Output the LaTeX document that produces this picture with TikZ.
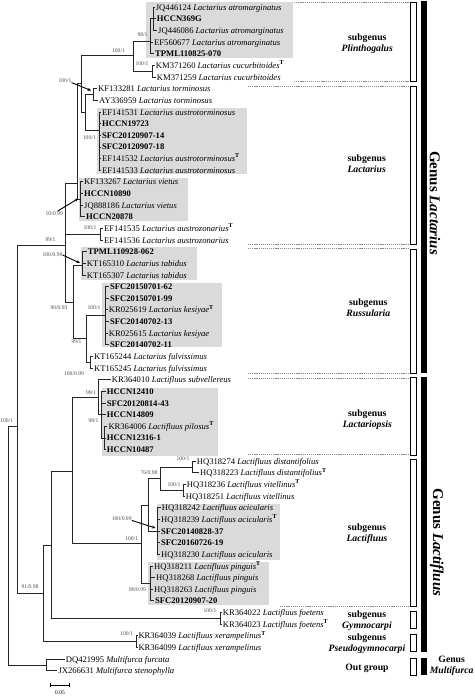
\documentclass[tikz,border=0pt]{standalone}
\usepackage{fontspec}
\setmainfont{Liberation Serif}
\usetikzlibrary{arrows.meta,calc}
\definecolor{boxgray}{RGB}{218,218,218}
\newcommand\typT{\textsuperscript{\textbf{T}}}
\newcommand\leafx[4]{%
 \coordinate (t#1) at (#2-0.9,{7.3+(#1-1)*11.64});
 \node[lab,anchor=base west] (n#1) at (#2,{7.3+(#1-1)*11.64+3}) {#4};
 \draw[br] (#3) |- (t#1);}
\begin{document}
\begin{tikzpicture}[x=1pt,y=-1pt,
  br/.style={line width=0.9pt,black!85},
  lab/.style={font=\fontsize{8.6}{10}\selectfont,inner sep=0pt},
  bs/.style={font=\fontsize{5.6}{6}\selectfont,text=black!70,inner sep=0pt},
  sep/.style={draw=black!45,line width=0.45pt,dash pattern=on 1.2pt off 0.9pt},
  brk/.style={draw=black,line width=0.6pt,fill=white},
  sg/.style={font=\fontsize{9.7}{11}\selectfont\bfseries,align=center,inner sep=0pt},
  gl/.style={font=\fontsize{15}{16}\selectfont\bfseries,inner sep=0pt,rotate=-90},
  arr/.style={-{Stealth[length=3.5pt,width=3pt]},line width=0.9pt,black}]
\useasboundingbox (0,0) rectangle (474,696);
% shaded clades
\fill[boxgray] (145.7,1.7) rectangle (293.3,58.3);
\fill[boxgray] (96.7,108.3) rectangle (246.7,174);
\fill[boxgray] (79,178.3) rectangle (188.3,220.7);
\fill[boxgray] (81,247.3) rectangle (196.7,280);
\fill[boxgray] (101.7,283.3) rectangle (221.7,347.3);
\fill[boxgray] (101.7,388.3) rectangle (218.3,455.7);
\fill[boxgray] (156.7,504) rectangle (280,560);
\fill[boxgray] (148.3,562.3) rectangle (269.3,605);
% separators
\foreach \yy/\xa in {2.7/294,81.7/294,86/248,244.3/248,248/248,373.3/248,378/248,454/248,606.7/280}
  \draw[sep] (\xa,\yy) -- (409,\yy);
% brackets
\foreach \a/\b in {2.7/81.7,86/244.3,249.3/373.3,377.3/455,459.3/606.7,611.7/628.3,634/651.7,658.3/675}
  \draw[brk] (410.7,\a) rectangle (416,\b);
\foreach \a/\b in {0.7/372.7,376.7/651.7,658.3/675}
  \fill[black] (420.7,\a) rectangle (426.7,\b);
% internal nodes
\coordinate (S1) at (153,18.94);
\coordinate (AM) at (150,41.7);
\coordinate (KM) at (152,71.3);
\coordinate (NP) at (133,55.5);
\coordinate (TP) at (93,94.6);
\coordinate (AT) at (99.3,130);
\coordinate (NTA) at (85.7,112);
\coordinate (NA) at (81,83);
\coordinate (NV) at (80.5,199.4);
\coordinate (NU) at (77.3,183);
\coordinate (AZ) at (100,234.3);
\coordinate (TB) at (82.7,265);
\coordinate (KS) at (105.5,315.8);
\coordinate (FV) at (90,362.3);
\coordinate (KF) at (86,338);
\coordinate (RUS) at (73,302);
\coordinate (LG) at (65.7,245);
\coordinate (DP) at (192,467.1);
\coordinate (VP) at (183,490.4);
\coordinate (DV) at (160,478.7);
\coordinate (AC) at (157,531.1);
\coordinate (DA) at (148.3,505);
\coordinate (PG) at (150,583.5);
\coordinate (LS) at (141.7,543.3);
\coordinate (SS) at (104,438);
\coordinate (SC) at (101.7,414.7);
\coordinate (LP) at (98.3,397);
\coordinate (G2) at (72.7,471.7);
\coordinate (FT) at (220,618.4);
\coordinate (G1) at (51.7,545);
\coordinate (XP) at (136.7,641.7);
\coordinate (LF) at (43.3,593.5);
\coordinate (IG) at (17.3,426);
\coordinate (MF) at (46.7,665);
\coordinate (RT) at (8.3,545);
% internal branches
\draw[br] (AM) |- (S1);
\draw[br] (NP) |- (AM);
\draw[br] (NP) |- (KM);
\draw[br] (NA) |- (NP);
\draw[br] (NTA) |- (TP);
\draw[br] (NTA) |- (AT);
\draw[br] (NA) |- (NTA);
\draw[br] (NU) |- (NA);
\draw[br] (NU) |- (NV);
\draw[br] (LG) |- (NU);
\draw[br] (LG) |- (AZ);
\draw[br] (LG) |- (RUS);
\draw[br] (RUS) |- (TB);
\draw[br] (RUS) |- (KF);
\draw[br] (KF) |- (KS);
\draw[br] (KF) |- (FV);
\draw[br] (IG) |- (LG);
\draw[br] (DV) |- (DP);
\draw[br] (DV) |- (VP);
\draw[br] (DA) |- (DV);
\draw[br] (DA) |- (AC);
\draw[br] (LS) |- (DA);
\draw[br] (LS) |- (PG);
\draw[br] (G2) |- (LS);
\draw[br] (G2) |- (LP);
\draw[br] (LP) |- (SC);
\draw[br] (SC) |- (SS);
\draw[br] (G1) |- (G2);
\draw[br] (G1) |- (FT);
\draw[br] (LF) |- (G1);
\draw[br] (LF) |- (XP);
\draw[br] (IG) |- (LF);
\draw[br] (RT) |- (IG);
\draw[br] (RT) |- (MF);
% leaves
\leafx{1}{155.7}{S1}{JQ446124 \textit{Lactarius atromarginatus}}
\leafx{2}{156.7}{S1}{\textbf{HCCN369G}}
\leafx{3}{158}{S1}{JQ446086 \textit{Lactarius atromarginatus}}
\leafx{4}{154}{AM}{EF560677 \textit{Lactarius atromarginatus}}
\leafx{5}{155}{AM}{\textbf{TPML110825-070}}
\leafx{6}{155.7}{KM}{KM371260 \textit{Lactarius cucurbitoides}\typT}
\leafx{7}{156.7}{KM}{KM371259 \textit{Lactarius cucurbitoides}}
\leafx{8}{98}{TP}{KF133281 \textit{Lactarius torminosus}}
\leafx{9}{99}{TP}{AY336959 \textit{Lactarius torminosus}}
\leafx{10}{102}{AT}{EF141531 \textit{Lactarius austrotorminosus}}
\leafx{11}{102}{AT}{\textbf{HCCN19723}}
\leafx{12}{102}{AT}{\textbf{SFC20120907-14}}
\leafx{13}{102}{AT}{\textbf{SFC20120907-18}}
\leafx{14}{102}{AT}{EF141532 \textit{Lactarius austrotorminosus}\typT}
\leafx{15}{102}{AT}{EF141533 \textit{Lactarius austrotorminosus}}
\leafx{16}{84}{NV}{KF133267 \textit{Lactarius vietus}}
\leafx{17}{84}{NV}{\textbf{HCCN10890}}
\leafx{18}{84}{NV}{JQ888186 \textit{Lactarius vietus}}
\leafx{19}{86}{NV}{\textbf{HCCN20878}}
\leafx{20}{104}{AZ}{EF141535 \textit{Lactarius austrozonarius}\typT}
\leafx{21}{104}{AZ}{EF141536 \textit{Lactarius austrozonarius}}
\leafx{22}{87.7}{TB}{\textbf{TPML110928-062}}
\leafx{23}{86.7}{TB}{KT165310 \textit{Lactarius tabidus}}
\leafx{24}{86.7}{TB}{KT165307 \textit{Lactarius tabidus}}
\leafx{25}{110}{KS}{\textbf{SFC20150701-62}}
\leafx{26}{110}{KS}{\textbf{SFC20150701-99}}
\leafx{27}{108.7}{KS}{KR025619 \textit{Lactarius kesiyae}\typT}
\leafx{28}{110}{KS}{\textbf{SFC20140702-13}}
\leafx{29}{108.7}{KS}{KR025615 \textit{Lactarius kesiyae}}
\leafx{30}{110}{KS}{\textbf{SFC20140702-11}}
\leafx{31}{94}{FV}{KT165244 \textit{Lactarius fulvissimus}}
\leafx{32}{94}{FV}{KT165245 \textit{Lactarius fulvissimus}}
\leafx{33}{111.7}{LP}{KR364010 \textit{Lactifluus subvellereus}}
\leafx{34}{106.7}{SC}{\textbf{HCCN12410}}
\leafx{35}{106.7}{SC}{\textbf{SFC20120814-43}}
\leafx{36}{106.7}{SC}{\textbf{HCCN14809}}
\leafx{37}{108.3}{SS}{KR364006 \textit{Lactifluus pilosus}\typT}
\leafx{38}{106.7}{SS}{\textbf{HCCN12316-1}}
\leafx{39}{106.7}{SS}{\textbf{HCCN10487}}
\leafx{40}{196.7}{DP}{HQ318274 \textit{Lactifluus distantifolius}}
\leafx{41}{200}{DP}{HQ318223 \textit{Lactifluus distantifolius}\typT}
\leafx{42}{186.7}{VP}{HQ318236 \textit{Lactifluus vitellinus}\typT}
\leafx{43}{185.7}{VP}{HQ318251 \textit{Lactifluus vitellinus}}
\leafx{44}{161.7}{AC}{HQ318242 \textit{Lactifluus acicularis}}
\leafx{45}{161}{AC}{HQ318239 \textit{Lactifluus acicularis}\typT}
\leafx{46}{161}{AC}{\textbf{SFC20140828-37}}
\leafx{47}{161}{AC}{\textbf{SFC20160726-19}}
\leafx{48}{161}{AC}{HQ318230 \textit{Lactifluus acicularis}}
\leafx{49}{154}{PG}{HQ318211 \textit{Lactifluus pinguis}\typT}
\leafx{50}{156}{PG}{HQ318268 \textit{Lactifluus pinguis}}
\leafx{51}{154}{PG}{HQ318263 \textit{Lactifluus pinguis}}
\leafx{52}{155}{PG}{\textbf{SFC20120907-20}}
\leafx{53}{222.7}{FT}{KR364022 \textit{Lactifluus foetens}}
\leafx{54}{222.7}{FT}{KR364023 \textit{Lactifluus foetens}\typT}
\leafx{55}{138.3}{XP}{KR364039 \textit{Lactifluus xerampelinus}\typT}
\leafx{56}{138.3}{XP}{KR364099 \textit{Lactifluus xerampelinus}}
\leafx{57}{65.7}{MF}{DQ421995 \textit{Multifurca furcata}}
\leafx{58}{58.3}{MF}{JX266631 \textit{Multifurca stenophylla}}
% support values
\node[bs] (b1) at (142.5,34.5) {98/1};
\node[bs] (b2) at (118.5,50.7) {100/1};
\node[bs] (b3) at (142,63.3) {100/1};
\node[bs] (b4) at (65,80.5) {100/1};
\node[bs] (b5) at (89.3,138) {100/1};
\node[bs] (b6) at (54.5,213.3) {93/0.99};
\node[bs] (b7) at (90,227.3) {100/1};
\node[bs] (b8) at (50.5,240) {99/1};
\node[bs] (b9) at (52.5,255) {100/0.99};
\node[bs] (b10) at (59,307.3) {90/0.93};
\node[bs] (b11) at (94,308) {100/1};
\node[bs] (b12) at (76.5,342) {99/1};
\node[bs] (b13) at (74,373.3) {100/0.99};
\node[bs] (b14) at (91,392.3) {99/1};
\node[bs] (b15) at (93.5,420.5) {98/1};
\node[bs] (b16) at (6.7,421) {100/1};
\node[bs] (b17) at (183,458.3) {100/1};
\node[bs] (b18) at (149,472.7) {76/0.98};
\node[bs] (b19) at (174,485) {100/1};
\node[bs] (b20) at (121.7,518.3) {100/0.99};
\node[bs] (b21) at (131.7,538.3) {100/1};
\node[bs] (b22) at (30,587) {91/0.98};
\node[bs] (b23) at (137.5,590) {89/0.99};
\node[bs] (b24) at (210,610.7) {100/1};
\node[bs] (b25) at (126.7,634) {100/1};
% pointer arrows
\coordinate (a4) at (91,90.5);
\coordinate (a6) at (78.3,198.5);
\coordinate (a9) at (80,263);
\coordinate (a20) at (155.5,528);
\draw[arr] (b4.south east) -- (a4);
\draw[arr] ($(b6.north)+(3,0)$) -- (a6);
\draw[arr] (b9.east) -- (a9);
\draw[arr] (b20.south east) -- (a20);
% scale bar
\coordinate (sb1) at (50,685);
\coordinate (sb2) at (70,685);
\draw[line width=0.8pt,{Bar[width=4pt]}-{Bar[width=4pt]}] (sb1) -- (sb2);
\node[bs,text=black] (sbl) at (60,692.5) {0.05};
% group labels
\node[sg] (g1) at (367.3,43.8) {subgenus\\\textit{Plinthogalus}};
\node[sg] (g2) at (366.7,164) {subgenus\\\textit{Lactarius}};
\node[sg] (g3) at (368.3,308) {subgenus\\\textit{Russularia}};
\node[sg] (g4) at (367.3,419.5) {subgenus\\\textit{Lactariopsis}};
\node[sg] (g5) at (367,533.6) {subgenus\\\textit{Lactifluus}};
\node[sg] (g6) at (367,620.3) {subgenus\\\textit{Gymnocarpi}};
\node[sg] (g7) at (367,643.5) {subgenus\\\textit{Pseudogymnocarpi}};
\node[sg] (g8) at (367,668.3) {Out group};
\node[sg] (g9) at (451.7,666) {Genus\\\textit{Multifurca}};
\node[gl] (gA) at (435,203) {Genus \textit{Lactarius}};
\node[gl] (gB) at (436.7,542.5) {Genus \textit{Lactifluus}};
\end{tikzpicture}
\end{document}
